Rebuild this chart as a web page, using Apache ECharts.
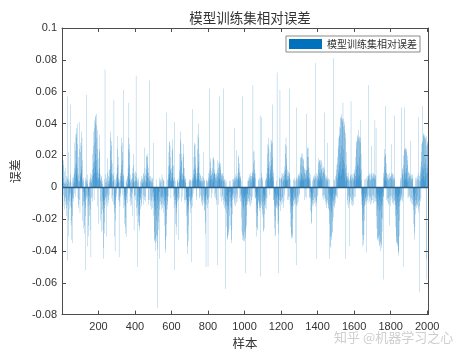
<!DOCTYPE html>
<html>
<head>
<meta charset="utf-8">
<script src="https://cdn.jsdelivr.net/npm/echarts@6/dist/echarts.min.js"></script>
<style>html,body{margin:0;padding:0;background:#fff}#c{width:474px;height:355px}</style>
</head>
<body>
<div id="c"></div>
<script>
const chartTitle = '模型训练集相对误差';
const seriesName = '模型训练集相对误差';
const xAxisName = '样本';
const yAxisName = '误差';
const xTickLabels = [200, 400, 600, 800, 1000, 1200, 1400, 1600, 1800, 2000];
const yTickValues = [-0.08, -0.06, -0.04, -0.02, 0, 0.02, 0.04, 0.06, 0.08, 0.1];

// relative error of each training sample
const relErrors = [
.011,.004,-.008,.019,.006,-.012,.014,.003,-.005,.017,.006,-.009,.002,.01,-.014,.003,-.007,.012,-.011,.002,
-.006,.004,-.013,.007,-.018,.003,-.009,.005,-.046,.002,.057,-.011,.006,-.021,.004,-.008,.022,-.031,.005,-.004,
-.009,.003,-.014,-.006,.008,.052,-.012,-.004,.004,-.024,-.009,-.033,-.013,-.021,.003,-.035,-.007,.006,-.018,-.005,
.004,-.007,.006,.002,-.009,.008,.028,-.004,.009,.003,.012,.006,.023,.011,-.006,.033,.014,.037,.009,.031,
.015,.034,.007,.04,.012,.027,.005,-.007,.019,-.011,.004,.008,-.013,.003,.024,-.008,.041,.004,-.016,.007,
.009,.022,.006,.028,.013,.035,.008,.026,.011,.031,.005,-.012,.017,-.021,.003,-.009,.006,-.026,.004,-.003,
-.011,-.004,-.024,-.009,-.029,-.006,-.018,-.052,.004,-.013,.006,-.008,.005,.058,-.007,.003,-.005,.008,-.037,.002,
-.006,.004,-.012,-.003,-.024,-.009,-.031,-.005,-.018,-.011,.005,-.006,.003,-.027,.004,-.014,.006,.009,-.044,.003,
.005,-.007,.008,.003,-.006,.011,.007,-.009,.021,.005,.015,.026,.008,.035,.012,-.008,.037,.016,.042,.009,
.028,.044,.013,.045,.021,.04,.009,.046,.017,.039,.006,.031,.024,-.012,.011,.036,.005,.009,-.023,.006,
.004,.018,.006,.024,.009,.033,.012,.022,.004,.008,-.021,.005,-.009,.004,-.028,.006,.003,-.017,.007,.002,
-.009,.004,-.014,-.006,-.027,-.011,-.038,-.016,-.045,-.008,-.029,-.013,.005,-.022,-.008,.074,-.006,.003,.008,-.011,
-.007,.004,-.009,-.031,.006,-.005,.003,.018,-.012,-.006,.009,-.004,.002,.007,-.01,.004,-.008,.011,-.005,.003,
.006,.011,.004,.023,.008,.031,.013,.035,.006,.026,.017,.009,.029,-.007,.008,-.005,.004,.015,-.009,.003,
.007,.004,-.011,.009,.055,.005,-.016,-.006,-.031,-.011,-.04,-.008,-.021,.005,-.013,.003,-.006,.008,-.004,.002,
.006,.012,.004,.024,.009,.032,.014,.019,.003,.006,-.008,.004,-.044,-.006,.003,-.009,.005,-.012,.007,-.004,
.004,.009,-.006,.014,.005,.026,.011,.031,.007,.022,.017,.004,.028,-.005,.003,.061,.007,-.013,.008,.005,
-.006,-.011,-.003,-.023,-.008,-.029,-.012,-.019,-.005,-.025,.004,-.031,-.006,.003,-.008,.005,-.004,.007,-.01,.002,
.006,.012,.004,.024,.009,.031,.053,.014,.022,.006,.027,.005,-.009,.004,-.006,.003,.008,-.012,.005,-.003,
-.007,.005,-.011,.003,.009,-.018,.006,-.004,.012,.004,.021,.008,.014,.003,-.027,.004,-.006,.009,-.005,.003,
.007,-.005,.01,.004,-.008,.07,.006,-.013,.004,.009,-.018,.005,-.009,.003,-.05,-.012,.004,-.017,.006,-.022,
-.006,-.024,-.011,-.027,-.004,-.018,-.025,-.007,-.014,-.008,.004,-.006,.003,-.01,.005,-.004,.007,-.012,.003,.002,
.005,-.007,.006,.003,-.005,.008,-.011,.004,.009,-.006,.007,.025,-.008,.005,.012,.003,-.009,.008,.004,-.006,
.011,.004,.019,.007,.02,.003,.021,.009,.014,.019,.006,-.008,.012,.009,.006,-.011,.004,.007,.003,.067,
-.008,.005,.004,-.012,.007,-.006,.004,-.009,.003,.006,-.014,.004,-.008,.005,-.006,.003,-.013,.006,-.004,.028,
-.009,-.003,-.018,-.006,-.028,-.012,-.034,-.008,-.033,-.017,-.035,-.04,-.009,-.032,-.014,-.034,-.006,-.03,.005,-.021,
-.031,-.008,-.039,-.013,-.076,-.006,-.027,-.011,-.022,-.004,-.018,-.009,.006,-.014,-.003,-.045,.004,-.011,-.006,.003,
-.009,.005,-.007,-.014,.004,-.011,-.006,.008,-.013,-.005,.006,-.01,-.007,.004,-.016,.005,-.006,-.011,.004,-.008,
-.012,-.004,-.024,-.009,-.033,-.014,-.041,-.006,-.039,-.018,-.031,.047,-.008,-.023,-.005,-.014,-.009,.005,-.006,-.011,
.004,.008,-.006,.013,.005,.022,.009,.029,.014,.028,.006,.026,.011,.019,.004,.011,-.007,.006,.004,.009,
.012,.004,.023,.009,.03,.006,.024,.013,.014,.004,-.006,.005,.004,-.013,-.052,.006,-.005,.041,-.008,.004,
-.011,-.004,-.023,-.008,-.03,-.013,-.025,-.006,-.016,-.011,.004,-.007,.003,-.009,.005,-.006,-.004,-.033,.003,-.008,
.006,.004,-.007,.011,.004,.021,.009,.03,.013,.035,.007,.028,.016,.021,-.009,.017,.005,.008,-.006,.005,
.009,.004,.019,.007,.027,.012,.021,.005,.012,-.008,.007,.004,.005,-.01,.006,.003,-.008,.005,.003,-.006,
-.008,-.003,-.018,-.007,-.029,-.012,-.037,-.009,-.042,-.016,-.034,-.006,-.024,-.011,-.014,.004,-.009,-.006,.003,.005,
-.006,-.011,.004,-.009,-.016,.005,-.008,-.047,-.013,.004,-.007,-.005,.006,-.012,.004,.049,-.006,.005,-.004,.008,
.011,.004,.019,.008,.026,.012,.028,.006,.027,.014,.019,.005,.011,.007,-.006,.005,.004,.009,-.008,.006,
.012,.005,.024,.009,.033,.013,.04,.007,.031,.016,.021,.004,.009,-.007,.005,-.006,.004,.008,-.005,.003,
.007,.004,-.009,.006,-.006,.004,-.011,.007,.004,-.008,.003,-.012,.006,-.005,.022,-.01,.004,-.007,.005,-.014,
-.009,.004,-.015,-.005,-.022,-.008,-.029,-.011,-.05,-.004,.004,-.011,-.006,.005,-.008,.003,-.013,-.007,.004,-.05,
.006,-.01,.004,.009,-.007,.005,.011,-.006,.008,.062,.004,.016,.007,.018,.005,.012,.008,-.007,.01,.005,
.007,-.004,.009,.003,.012,.005,.018,.008,.019,.004,.018,.006,.017,.009,.011,-.006,.009,.008,-.004,.006,
.008,-.007,.005,.008,-.011,.006,.009,-.008,.004,-.049,.007,.011,.004,.017,.006,.015,.009,.012,-.011,.009,
.014,.005,.016,.057,.006,.015,.004,.013,.011,-.006,.008,.005,.009,-.009,.007,.004,-.006,.008,.009,-.005,
.006,-.008,.004,.007,-.011,.004,.062,-.009,.005,-.013,.004,-.007,.005,-.012,-.009,.003,-.064,-.014,.004,-.011,
-.016,-.005,-.025,-.009,-.032,-.012,-.033,-.006,-.031,-.014,-.03,-.004,-.028,-.011,-.026,-.006,-.018,-.003,.004,-.009,
-.007,.004,-.012,-.003,-.024,-.009,-.033,-.006,-.035,-.013,-.027,-.005,-.017,-.004,-.008,.005,-.006,-.004,.003,.005,
-.007,.005,-.011,.004,.037,-.009,.006,-.005,.008,-.012,.004,.006,-.007,.023,-.01,.005,-.004,.007,-.009,.005,
.006,-.006,.009,.004,.012,.005,.019,.007,.02,.004,.015,.006,.009,-.007,.01,.005,-.009,.007,-.005,.006,
-.009,-.004,.004,-.019,-.006,-.028,-.011,-.033,-.007,-.03,.057,-.014,-.034,-.005,-.031,-.012,-.033,-.006,-.028,-.009,
-.034,-.007,-.029,-.012,-.032,-.054,-.005,-.026,-.011,-.024,-.004,-.018,-.009,-.011,-.004,.004,-.009,-.005,-.007,.004,
-.009,.006,-.007,.004,-.011,.008,-.005,.006,-.009,.004,.007,-.012,.005,-.006,.009,-.008,.003,.007,-.01,.005,
.007,.01,-.006,.009,.006,.064,.004,.015,.006,.022,.009,.023,.005,.017,.008,.011,-.006,.006,.009,-.007,
-.007,-.003,-.016,-.006,-.025,-.011,-.031,-.005,-.027,-.013,-.026,-.004,-.018,-.008,.005,-.01,-.006,-.009,.004,-.011,
-.013,-.009,.006,-.015,.045,-.011,-.056,.005,-.013,-.007,.009,-.012,.006,-.009,.044,-.014,.004,-.01,-.017,.006,
-.019,-.006,-.028,-.009,-.027,-.004,-.026,-.011,-.017,-.005,-.008,-.011,-.006,.005,-.013,-.009,.004,-.014,-.007,.005,
.006,.009,-.007,.012,.004,.021,.008,.027,.012,.026,.005,.031,.014,.024,.006,.016,.004,.008,-.005,.011,
.013,.005,.022,.009,.03,.014,.029,.006,.027,.017,.028,.004,.052,.019,.007,.011,.004,.006,-.008,.009,
-.008,-.003,-.018,-.007,-.026,-.011,-.031,-.004,-.03,-.012,-.021,-.005,-.013,-.01,.004,-.012,-.007,.072,-.011,-.006,
-.014,-.005,-.023,-.008,-.029,-.012,-.021,-.054,-.006,.005,-.012,-.008,.006,.061,-.009,-.006,.005,-.015,-.009,.006,
-.008,.006,-.011,.005,.009,-.007,.004,-.01,.008,-.006,.009,.005,-.013,.004,.007,-.009,.005,-.005,.008,.01,
.013,.004,.021,.008,.027,.011,.031,.005,.026,.014,.018,.004,.011,.007,-.008,.005,.004,.009,-.006,.005,
.007,.01,-.008,.009,.006,-.006,.008,.062,-.011,.005,-.016,-.004,-.025,-.009,-.032,-.012,-.031,-.006,-.029,-.014,
-.03,-.007,-.032,-.011,-.02,-.004,-.012,-.008,.005,-.009,.004,-.007,-.011,.006,-.005,-.008,-.035,.004,-.006,-.01,
-.007,.005,.05,-.012,-.049,.006,-.01,-.007,.004,-.011,.006,-.005,.008,-.009,.005,.007,-.006,.008,-.004,.005,
.007,-.005,.009,.003,.014,.006,.019,.004,.018,.009,.021,.005,.019,.008,.018,.004,.021,.007,.013,.005,
.018,.006,.013,.004,.017,.009,.011,.005,.012,-.008,.009,.006,.005,-.006,.008,.011,-.007,.046,.01,.006,
.011,.004,.019,.007,.025,.011,.024,.006,.025,.013,.019,.005,.012,.009,.006,-.007,.005,-.006,.004,.008,
-.007,-.003,-.015,-.006,-.022,-.009,-.023,-.004,-.016,-.012,-.008,-.006,.004,-.01,.005,-.008,.006,-.011,-.004,.007,
.005,-.007,.008,-.01,.005,-.006,.007,-.009,.006,.078,-.012,-.045,.006,-.008,.009,-.01,.004,.007,-.006,.005,
.008,-.005,.011,.004,.015,.006,.018,.005,.017,.009,.017,.004,.016,.007,.014,.005,.017,.009,.011,.006,
.017,.004,.011,.015,.005,-.006,.012,.009,.007,-.008,.01,.013,-.005,.009,.012,-.007,.011,.047,.008,-.005,
.006,-.009,.005,-.007,.008,-.011,.004,.007,-.009,.006,-.013,.005,.028,-.01,.004,-.008,.006,-.014,.005,-.011,
-.013,-.004,.005,-.015,-.045,-.006,-.023,-.009,-.031,-.012,-.037,-.005,-.038,-.014,-.033,-.007,-.031,-.016,-.029,-.008,
-.028,-.005,-.021,-.009,-.019,-.004,.081,-.012,-.009,.005,-.011,-.007,-.013,.004,-.008,-.006,-.005,.007,-.01,-.004,
.006,-.006,.008,.011,-.005,.014,.004,.015,-.007,.019,.006,.024,.009,.026,.011,.031,.007,.033,.014,.032,
.009,.038,.016,.037,.007,.044,.021,.043,.011,.046,.026,.044,.008,.043,.019,.041,.012,.042,.053,.017,
.043,.011,.038,.024,.041,.006,.039,.015,.036,.009,.034,.012,.031,.004,-.045,.022,.006,.014,.004,.007,
.009,-.008,.006,.005,-.011,.007,-.006,.009,.004,-.013,.006,-.005,.005,-.009,-.037,.004,-.01,.006,-.007,.008,
-.006,.007,.054,-.011,.005,-.008,.008,.004,-.012,.006,-.005,.008,-.009,.005,.004,-.011,.006,-.007,.009,.005,
.008,-.006,.009,.011,.007,-.006,.013,.004,.019,.007,.024,.011,.028,.005,.029,.013,.03,.006,.032,.015,
.033,.008,.031,.014,.036,.005,.031,.019,.032,.007,.029,.012,.031,.004,.028,.042,.009,.021,.005,.011,
-.006,-.011,-.004,-.021,-.009,-.03,-.013,-.037,-.005,-.036,-.017,-.033,-.008,-.03,-.012,-.021,-.004,-.011,.005,-.007,
-.009,-.006,.005,-.011,-.007,-.004,-.041,.006,-.009,-.005,.004,-.008,.007,-.006,.005,-.01,.008,-.005,.006,.064,
.007,-.006,.009,.005,-.009,.007,-.007,.005,.008,-.011,.004,-.006,.008,.026,-.01,.005,-.008,.009,-.005,.006,
.005,-.008,.007,-.005,.009,.006,-.01,.008,-.006,.005,.008,-.009,.006,.042,-.007,.005,-.009,.007,.008,.037,
-.009,-.004,-.018,-.007,-.026,-.011,-.032,-.005,-.033,-.014,-.034,-.006,-.032,-.012,-.031,-.004,-.037,-.015,-.03,-.008,
-.036,-.009,-.034,-.014,-.04,-.006,-.035,-.019,-.038,-.005,-.036,-.011,-.028,-.004,-.02,-.009,-.012,-.003,-.058,-.006,
.006,.009,-.006,.013,.004,.019,.007,.024,.005,.051,.011,.02,.004,.021,.009,.015,.004,-.008,.009,.006,
-.007,.006,-.009,.005,.008,-.011,.005,-.007,.008,.004,-.01,.006,-.006,.009,-.024,.005,.007,-.012,.006,-.005,
.006,-.008,.005,.009,-.006,.027,.007,-.01,.005,.008,-.007,.009,-.009,.006,.004,-.011,.008,-.005,.006,-.009,
-.008,.005,.045,-.011,-.004,-.018,-.007,-.025,-.011,-.031,-.005,-.035,-.014,-.034,-.006,-.035,-.017,-.036,-.009,-.037,
-.041,-.006,-.043,-.012,-.04,-.005,-.031,-.009,-.021,-.004,-.012,-.008,.004,-.009,.006,-.006,-.005,.05,-.007,-.004,
.006,-.008,.009,.011,-.009,.008,.012,-.006,-.05,.014,.005,.02,.008,.024,.004,.05,.011,.023,.006,.024,
.009,.025,.005,.023,.012,.024,.004,.022,.009,.02,.005,.017,.003,.014,-.007,.01,.004,.006,-.006,.009,
.007,-.006,.009,.006,-.005,.008,.005,-.009,.007,.029,-.007,.004,.008,-.01,.006,-.007,.005,.008,-.011,.006,
-.008,.005,-.011,-.004,-.014,-.006,-.023,-.009,-.029,-.005,-.033,-.012,-.025,-.004,-.017,.006,-.012,-.008,.004,-.011,
-.01,.006,-.013,-.008,.005,-.012,.007,-.011,-.006,.009,-.014,.044,-.009,.005,-.016,-.008,-.066,.004,-.012,.007,
.008,-.009,.01,.004,.013,-.007,.016,.005,.022,.009,.027,.012,.028,.051,.006,.029,.013,.032,.007,.033,
.011,.034,.006,.033,.015,.031,.004,.032,.018,.03,.007,.031,.012,-.045,.032,.009,.026,-.058,.014,.028,
.009,.027,.012,.029
];

// sample numbers 1..N used as category labels
const sampleIds = relErrors.map((_, i) => String(i + 1));

const axisColor = '#4d4d4d';
const labelColor = '#333333';
const cjk = '"Noto Sans CJK SC", "Noto Sans", sans-serif';
const latin = '"Liberation Sans", Arial, sans-serif';

const isXTick = (idx, val) => xTickLabels.indexOf(Number(val)) >= 0;

const chart = echarts.init(document.getElementById('c'), null, {renderer: 'canvas'});
chart.setOption({
  animation: false,
  backgroundColor: '#ffffff',
  title: {
    text: chartTitle,
    left: 245, top: 6, textAlign: 'center',
    textStyle: {fontFamily: cjk, fontSize: 13.5, fontWeight: 'normal', color: '#333'}
  },
  legend: {
    left: 286, top: 36,
    icon: 'rect', itemWidth: 33, itemHeight: 10, itemGap: 4,
    padding: [2, 3, 2, 3],
    backgroundColor: '#ffffff', borderColor: '#8a8a8a', borderWidth: 1,
    textStyle: {fontFamily: cjk, fontSize: 10, color: '#333', lineHeight: 12},
    data: [seriesName]
  },
  grid: {left: 62, right: 46, top: 28, bottom: 39, containLabel: false},
  xAxis: [{
    type: 'category', data: sampleIds, position: 'bottom', boundaryGap: true,
    name: xAxisName, nameLocation: 'middle', nameGap: 22,
    nameTextStyle: {fontFamily: cjk, fontSize: 12.5, color: labelColor},
    axisLine: {show: true, onZero: false, lineStyle: {color: axisColor, width: 1}},
    axisTick: {show: true, inside: true, length: 4, alignWithLabel: true, interval: isXTick, lineStyle: {color: axisColor}},
    axisLabel: {interval: isXTick, margin: 7, fontFamily: latin, fontSize: 11, color: labelColor},
    splitLine: {show: false}
  }, {
    type: 'category', data: sampleIds, position: 'top', boundaryGap: true,
    axisLine: {show: true, onZero: false, lineStyle: {color: axisColor, width: 1}},
    axisTick: {show: true, inside: true, length: 4, alignWithLabel: true, interval: isXTick, lineStyle: {color: axisColor}},
    axisLabel: {show: false},
    splitLine: {show: false}
  }],
  yAxis: [{
    type: 'value', min: yTickValues[0], max: yTickValues[yTickValues.length - 1], interval: 0.02,
    position: 'left',
    name: yAxisName, nameLocation: 'middle', nameGap: 32, nameRotate: 90,
    nameTextStyle: {fontFamily: cjk, fontSize: 12, color: labelColor},
    axisLine: {show: true, onZero: false, lineStyle: {color: axisColor, width: 1}},
    axisTick: {show: true, inside: true, length: 4, lineStyle: {color: axisColor}},
    axisLabel: {margin: 5, fontFamily: latin, fontSize: 11, color: labelColor,
      formatter: v => String(parseFloat(v.toFixed(2)))},
    splitLine: {show: false}
  }, {
    type: 'value', min: yTickValues[0], max: yTickValues[yTickValues.length - 1], interval: 0.02,
    position: 'right',
    axisLine: {show: true, onZero: false, lineStyle: {color: axisColor, width: 1}},
    axisTick: {show: true, inside: true, length: 4, lineStyle: {color: axisColor}},
    axisLabel: {show: false},
    splitLine: {show: false}
  }],
  graphic: [{
    type: 'text', left: 334, top: 331, silent: true,
    style: {text: '知乎 @机器学习之心', font: '13px "Noto Sans CJK SC"', fill: 'rgba(190,190,190,0.75)'}
  }],
  series: [{
    name: seriesName,
    type: 'bar',
    xAxisIndex: 0, yAxisIndex: 0,
    data: relErrors,
    barWidth: 0.2,
    barMinWidth: 0.05,
    itemStyle: {color: '#0072BD'},
    emphasis: {disabled: true},
    markLine: {
      silent: true, symbol: 'none', animation: false,
      label: {show: false},
      lineStyle: {color: '#2c5c84', width: 1.3, type: 'solid'},
      data: [{yAxis: 0}]
    }
  }]
});
</script>
</body>
</html>
